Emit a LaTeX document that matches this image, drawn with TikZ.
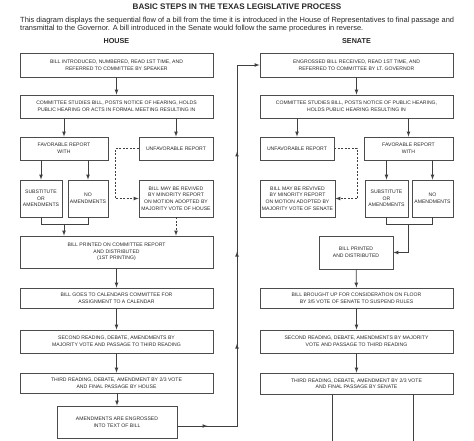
\documentclass[tikz,border=0pt]{standalone}
\usepackage{fontspec}
\setmainfont{Liberation Sans}
\usetikzlibrary{arrows,decorations.markings}

\tikzset{
  etape/.style={draw=black!70, line width=0.8pt, inner sep=0pt, align=center,
                font=\fontsize{5.1}{6.6}\selectfont, text=black!85},
  trait/.style={line width=0.7pt, draw=black!75},
  fleche/.style={->, trait},
  pointille/.style={fleche, dash pattern=on 2pt off 1.5pt},
  entete/.style={font=\fontsize{7.2}{8}\selectfont\bfseries, text=black!85},
}

\begin{document}
\begin{tikzpicture}[>=latex, x=1pt, y=-1pt]
\useasboundingbox (0,0) rectangle (474,441);

% le titre
\node (titre) [entete, font=\fontsize{8.1}{9}\selectfont\bfseries] at (237,7)
  {BASIC STEPS IN THE TEXAS LEGISLATIVE PROCESS};
\node (texte) [anchor=west, align=left, inner sep=0pt, text=black!85,
               font=\fontsize{7.45}{7.2}\selectfont] at (20,24.5)
  {This diagram displays the sequential flow of a bill from the time it is introduced in the House of Representatives to final passage and\\
   transmittal to the Governor. A bill introduced in the Senate would follow the same procedures in reverse.};
\node (house)  [entete] at (116.5,41) {HOUSE};
\node (senate) [entete] at (356.5,41) {SENATE};

% la chambre
\node (hIntro)  [etape, minimum width=193pt, minimum height=24pt] at (116.5,65)
  {BILL INTRODUCED, NUMBERED, READ 1ST TIME, AND\\REFERRED TO COMMITTEE BY SPEAKER};
\node (hStudy)  [etape, minimum width=193pt, minimum height=23pt] at (116.5,106.5)
  {COMMITTEE STUDIES BILL, POSTS NOTICE OF HEARING, HOLDS\\PUBLIC HEARING OR ACTS IN FORMAL MEETING RESULTING IN};
\node (hFav)    [etape, minimum width=88pt, minimum height=23pt] at (64,148.5)
  {FAVORABLE REPORT\\WITH};
\node (hUnfav)  [etape, minimum width=74pt, minimum height=23pt] at (176,148.5)
  {UNFAVORABLE REPORT};
\node (hSubst)  [etape, minimum width=42pt, minimum height=37pt] at (41,198.5)
  {SUBSTITUTE\\OR\\AMENDMENTS};
\node (hNoAm)   [etape, minimum width=40pt, minimum height=37pt] at (88,198.5)
  {NO\\AMENDMENTS};
\node (hRevive) [etape, minimum width=74pt, minimum height=37pt] at (176,198.5)
  {BILL MAY BE REVIVED\\BY MINORITY REPORT\\ON MOTION ADOPTED BY\\MAJORITY VOTE OF HOUSE};
\node (hPrint)  [etape, minimum width=193pt, minimum height=32pt] at (116.5,252)
  {BILL PRINTED ON COMMITTEE REPORT\\AND DISTRIBUTED\\(1ST PRINTING)};
\node (hCal)    [etape, minimum width=193pt, minimum height=20pt] at (116.5,298)
  {BILL GOES TO CALENDARS COMMITTEE FOR\\ASSIGNMENT TO A CALENDAR};
\node (hSecond) [etape, minimum width=193pt, minimum height=23pt] at (116.5,341.5)
  {SECOND READING, DEBATE, AMENDMENTS BY\\MAJORITY VOTE AND PASSAGE TO THIRD READING};
\node (hThird)  [etape, minimum width=193pt, minimum height=20pt] at (116.5,383)
  {THIRD READING, DEBATE, AMENDMENT BY 2/3 VOTE\\AND FINAL PASSAGE BY HOUSE};
\node (hEngr)   [etape, minimum width=120pt, minimum height=32pt] at (117,422)
  {AMENDMENTS ARE ENGROSSED\\INTO TEXT OF BILL};

% le senat
\node (sIntro)  [etape, minimum width=193pt, minimum height=24pt] at (356.5,65)
  {ENGROSSED BILL RECEIVED, READ 1ST TIME, AND\\REFERRED TO COMMITTEE BY LT. GOVERNOR};
\node (sStudy)  [etape, minimum width=193pt, minimum height=23pt] at (356.5,106.5)
  {COMMITTEE STUDIES BILL, POSTS NOTICE OF PUBLIC HEARING,\\HOLDS PUBLIC HEARING RESULTING IN};
\node (sUnfav)  [etape, minimum width=74pt, minimum height=23pt] at (297,148.5)
  {UNFAVORABLE REPORT};
\node (sFav)    [etape, minimum width=89pt, minimum height=23pt] at (408.5,148.5)
  {FAVORABLE REPORT\\WITH};
\node (sRevive) [etape, minimum width=75pt, minimum height=37pt] at (297.5,198.5)
  {BILL MAY BE REVIVED\\BY MINORITY REPORT\\ON MOTION ADOPTED BY\\MAJORITY VOTE OF SENATE};
\node (sSubst)  [etape, minimum width=43pt, minimum height=37pt] at (386.5,198.5)
  {SUBSTITUTE\\OR\\AMENDMENTS};
\node (sNoAm)   [etape, minimum width=41pt, minimum height=37pt] at (432.5,198.5)
  {NO\\AMENDMENTS};
\node (sPrint)  [etape, minimum width=74pt, minimum height=33pt] at (356,252.5)
  {BILL PRINTED\\AND DISTRIBUTED};
\node (sFloor)  [etape, minimum width=193pt, minimum height=20pt] at (356.5,298)
  {BILL BROUGHT UP FOR CONSIDERATION ON FLOOR\\BY 3/5 VOTE OF SENATE TO SUSPEND RULES};
\node (sSecond) [etape, minimum width=193pt, minimum height=23pt] at (356.5,341.5)
  {SECOND READING, DEBATE, AMENDMENTS BY MAJORITY\\VOTE AND PASSAGE TO THIRD READING};
\node (sThird)  [etape, minimum width=193pt, minimum height=21pt] at (356.5,383.5)
  {THIRD READING, DEBATE, AMENDMENT BY 2/3 VOTE\\AND FINAL PASSAGE BY SENATE};

% les fleches de la chambre
\draw [fleche] (hIntro) -- (hStudy);
\draw [fleche] (hStudy.south -| hFav) -- (hFav);
\draw [fleche] (hStudy.south -| hUnfav) -- (hUnfav);
\draw [fleche] (hFav.south -| hSubst) -- (hSubst);
\draw [fleche] (hFav.south -| hNoAm) -- (hNoAm);
\draw [trait] (hSubst.south) -- ++(0,7) coordinate (hJoin) -| (hNoAm.south);
\draw [fleche] (hFav |- hJoin) -- (hFav |- hPrint.north);
\draw [pointille] (hUnfav.west) -- ++(-23,0) |- (hRevive.west);
\draw [pointille] (hRevive) -- (hRevive |- hPrint.north);
\draw [fleche] (hPrint) -- (hCal);
\draw [fleche] (hCal) -- (hSecond);
\draw [fleche] (hSecond) -- (hThird);
\draw [fleche] (hThird.south -| hEngr) -- (hEngr);

% vers le senat
\coordinate (cCoin) at (237,65);
\draw [fleche, postaction={decorate},
       decoration={markings,
         mark=at position 30pt with {\arrow{latex}},
         mark=at position 142pt with {\arrow{latex}},
         mark=at position 234pt with {\arrow{latex}},
         mark=at position 334pt with {\arrow{latex}}}]
  ([yshift=-4pt]hEngr.east) -| (cCoin) -- (sIntro.west);

% les fleches du senat
\draw [fleche] (sIntro) -- (sStudy);
\draw [fleche] (sStudy.south -| sUnfav) -- (sUnfav);
\draw [fleche] (sStudy.south -| sFav) -- (sFav);
\draw [fleche] (sFav.south -| sSubst) -- (sSubst);
\draw [fleche] (sFav.south -| sNoAm) -- (sNoAm);
\draw [trait] (sSubst.south) -- ++(0,7) coordinate (sJoin) -| (sNoAm.south);
\draw [fleche] (sFav |- sJoin) |- (sPrint.east);
\draw [pointille] (sUnfav.east) -- ++(23,0) |- (sRevive.east);
\draw [fleche] (sPrint) -- (sFloor);
\draw [fleche] (sFloor) -- (sSecond);
\draw [fleche] (sSecond) -- (sThird);

% sorties vers le bas
\coordinate (sOutA) at (332,441);
\coordinate (sOutB) at (413,441);
\draw [trait] (sThird.south -| sOutA) -- (sOutA);
\draw [trait] (sThird.south -| sOutB) -- (sOutB);

\end{tikzpicture}
\end{document}
